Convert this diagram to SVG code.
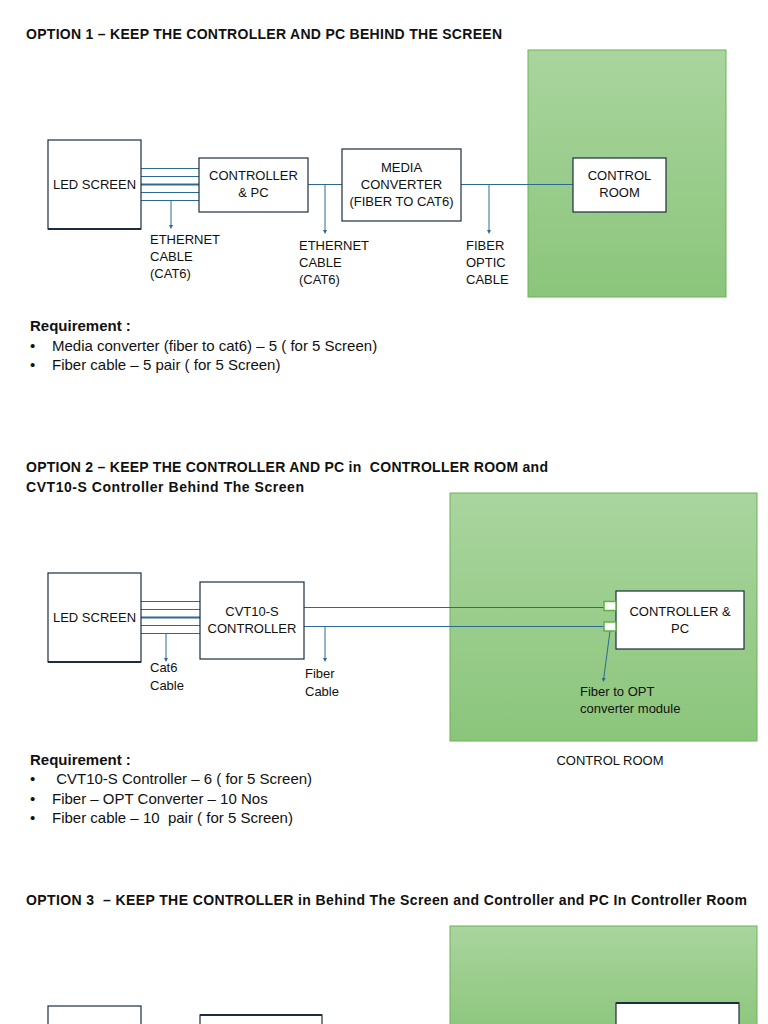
<svg xmlns="http://www.w3.org/2000/svg" width="768" height="1024" viewBox="0 0 768 1024">
<style>
text{font-family:"Liberation Sans",Arial,sans-serif;fill:#111;white-space:pre}
.title{font-size:14px;font-weight:bold}
.lbl{font-size:13px}
.req{font-size:15px}
.reqh{font-size:15px;font-weight:bold}
.box{fill:#fff;stroke:#1c2e3e;stroke-width:1.2}
.room{fill:url(#g);stroke:#6db356;stroke-width:1}
.w{stroke:#2d6a8f;stroke-width:1;fill:none}
.wt{stroke:#2d6a8f;stroke-width:2;fill:none}
.arr{stroke:#2d6a8f;stroke-width:1;fill:none;marker-end:url(#ah)}
.port{fill:#fff;stroke:#5fb043;stroke-width:1.5}
</style>
<defs>
<linearGradient id="g" x1="0" y1="0" x2="0" y2="1">
<stop offset="0" stop-color="#a9d59e"/>
<stop offset="1" stop-color="#8bc57b"/>
</linearGradient>
<marker id="ah" viewBox="0 0 6 6" refX="3" refY="3" markerWidth="4" markerHeight="4" orient="auto">
<path d="M0,0 L6,3 L0,6 z" fill="#2d6a8f"/>
</marker>
</defs>
<rect width="768" height="1024" fill="#fff"/>

<!-- OPTION 1 -->
<text class="title" x="26" y="39" textLength="476">OPTION 1 – KEEP THE CONTROLLER AND PC BEHIND THE SCREEN</text>
<g id="o1-room"><rect class="room" x="528" y="50" width="198" height="247"/></g>
<g id="o1-connectors">
<line class="w" x1="141" y1="168.5" x2="200" y2="168.5"/>
<line class="w" x1="141" y1="176.5" x2="200" y2="176.5"/>
<line class="wt" x1="141" y1="184.5" x2="200" y2="184.5"/>
<line class="w" x1="141" y1="192.5" x2="200" y2="192.5"/>
<line class="w" x1="141" y1="200.5" x2="200" y2="200.5"/>
<line class="arr" x1="171" y1="200" x2="171" y2="227"/>
<line class="w" x1="308" y1="184.5" x2="342" y2="184.5"/>
<line class="arr" x1="325" y1="184" x2="325" y2="232"/>
<line class="w" x1="461" y1="184.5" x2="573" y2="184.5"/>
<line class="arr" x1="489" y1="184" x2="489" y2="232"/>
</g>
<g id="o1-led"><rect class="box" x="48" y="140" width="93" height="89"/><line x1="48" y1="229" x2="141" y2="229" stroke="#1c2e3e" stroke-width="2"/><text class="lbl" x="94.5" y="189" text-anchor="middle">LED SCREEN</text></g>
<g id="o1-ctrl"><rect class="box" x="199" y="158" width="109" height="54"/><text class="lbl" x="253.5" y="180" text-anchor="middle">CONTROLLER</text><text class="lbl" x="253.5" y="197" text-anchor="middle">&amp; PC</text></g>
<g id="o1-media"><rect class="box" x="342" y="149" width="119" height="72"/><text class="lbl" x="401.5" y="172" text-anchor="middle">MEDIA</text><text class="lbl" x="401.5" y="189" text-anchor="middle">CONVERTER</text><text class="lbl" x="401.5" y="206" text-anchor="middle">(FIBER TO CAT6)</text></g>
<g id="o1-cr"><rect class="box" x="573" y="158" width="93" height="54"/><text class="lbl" x="619.5" y="180" text-anchor="middle">CONTROL</text><text class="lbl" x="619.5" y="197" text-anchor="middle">ROOM</text></g>
<g id="o1-labels">
<text class="lbl" x="150" y="244">ETHERNET</text><text class="lbl" x="150" y="261">CABLE</text><text class="lbl" x="150" y="278">(CAT6)</text>
<text class="lbl" x="299" y="250">ETHERNET</text><text class="lbl" x="299" y="267">CABLE</text><text class="lbl" x="299" y="284">(CAT6)</text>
<text class="lbl" x="466" y="250">FIBER</text><text class="lbl" x="466" y="267">OPTIC</text><text class="lbl" x="466" y="284">CABLE</text>
</g>
<text class="reqh" x="30" y="331">Requirement :</text>
<text class="req" x="30" y="351">•</text><text class="req" x="52" y="351">Media converter (fiber to cat6) – 5 ( for 5 Screen)</text>
<text class="req" x="30" y="370">•</text><text class="req" x="52" y="370">Fiber cable – 5 pair ( for 5 Screen)</text>

<!-- OPTION 2 -->
<text class="title" x="26" y="472" textLength="522">OPTION 2 – KEEP THE CONTROLLER AND PC in  CONTROLLER ROOM and</text>
<text class="title" x="26" y="492" textLength="278">CVT10-S Controller Behind The Screen</text>
<g id="o2-room"><rect class="room" x="450" y="493" width="307" height="248"/></g>
<g id="o2-connectors">
<line class="w" x1="141" y1="601.5" x2="200" y2="601.5"/>
<line class="w" x1="141" y1="609.5" x2="200" y2="609.5"/>
<line class="wt" x1="141" y1="617.5" x2="200" y2="617.5"/>
<line class="w" x1="141" y1="625.5" x2="200" y2="625.5"/>
<line class="w" x1="141" y1="633.5" x2="200" y2="633.5"/>
<line class="arr" x1="166" y1="633" x2="166" y2="660"/>
<line class="w" x1="304" y1="607.5" x2="604" y2="607.5"/>
<line class="w" x1="304" y1="626.5" x2="604" y2="626.5"/>
<line class="arr" x1="325" y1="627" x2="325" y2="660"/>
<line class="arr" x1="610" y1="631" x2="603.5" y2="680"/>
</g>
<g id="o2-led"><rect class="box" x="48" y="573" width="93" height="89"/><line x1="48" y1="662" x2="141" y2="662" stroke="#1c2e3e" stroke-width="2"/><text class="lbl" x="94.5" y="622" text-anchor="middle">LED SCREEN</text></g>
<g id="o2-cvt"><rect class="box" x="200" y="582" width="104" height="77"/><text class="lbl" x="252" y="616" text-anchor="middle">CVT10-S</text><text class="lbl" x="252" y="633" text-anchor="middle">CONTROLLER</text></g>
<g id="o2-pc"><rect class="box" x="616" y="591" width="128" height="58"/><text class="lbl" x="680" y="616" text-anchor="middle">CONTROLLER &amp;</text><text class="lbl" x="680" y="633" text-anchor="middle">PC</text></g>
<g id="o2-ports"><rect class="port" x="604" y="601.5" width="12" height="9"/><rect class="port" x="604" y="622" width="12" height="9"/></g>
<g id="o2-labels">
<text class="lbl" x="150" y="672">Cat6</text><text class="lbl" x="150" y="690">Cable</text>
<text class="lbl" x="305" y="678">Fiber</text><text class="lbl" x="305" y="696">Cable</text>
<text class="lbl" x="580" y="696">Fiber to OPT</text><text class="lbl" x="580" y="713">converter module</text>
<text class="lbl" x="610" y="765" text-anchor="middle">CONTROL ROOM</text>
</g>
<text class="reqh" x="30" y="765">Requirement :</text>
<text class="req" x="30" y="784">•</text><text class="req" x="52" y="784"> CVT10-S Controller – 6 ( for 5 Screen)</text>
<text class="req" x="30" y="804">•</text><text class="req" x="52" y="804">Fiber – OPT Converter – 10 Nos</text>
<text class="req" x="30" y="823">•</text><text class="req" x="52" y="823">Fiber cable – 10  pair ( for 5 Screen)</text>

<!-- OPTION 3 -->
<text class="title" x="26" y="905" textLength="721">OPTION 3  – KEEP THE CONTROLLER in Behind The Screen and Controller and PC In Controller Room</text>
<g id="o3-room"><rect class="room" x="450" y="926" width="307" height="110"/></g>
<g id="o3-led"><rect class="box" x="48" y="1006" width="93" height="30"/></g>
<g id="o3-ctrl"><rect class="box" x="200" y="1015" width="122" height="30"/><line x1="200" y1="1015" x2="322" y2="1015" stroke="#1c2e3e" stroke-width="2"/></g>
<g id="o3-pc"><rect class="box" x="616" y="1003" width="123" height="30"/><line x1="616" y1="1003" x2="739" y2="1003" stroke="#1c2e3e" stroke-width="2"/></g>
</svg>
